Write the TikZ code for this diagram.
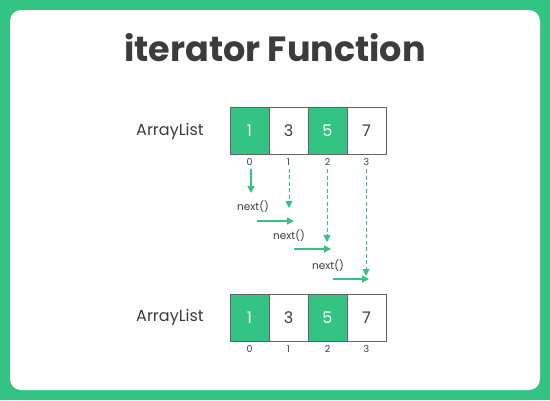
\documentclass[tikz,border=0pt]{standalone}
\usepackage{fontspec}
\setmainfont{Poppins}
\usetikzlibrary{arrows.meta}
\definecolor{gfg}{RGB}{51,196,132}
\definecolor{ink}{RGB}{60,60,60}
\begin{document}
\begin{tikzpicture}[x=1pt,y=-1pt,
  cell/.style={draw=ink!80,line width=0.8pt,minimum width=39pt,minimum height=47pt,inner sep=0pt,font=\fontsize{16}{18}\selectfont,text=ink},
  gcell/.style={cell,fill=gfg,text=white},
  idx/.style={font=\fontsize{9.5}{10}\selectfont,text=ink},
  lbl/.style={font=\fontsize{16}{18}\selectfont,text=ink},
  nxt/.style={font=\fontsize{10.5}{12}\selectfont,text=ink},
  arr/.style={draw=gfg,line width=1.4pt,-{Triangle[length=7pt,width=7pt]}},
  darr/.style={arr,line width=0.9pt,dash pattern=on 4pt off 2.5pt}]
\useasboundingbox (0,0) rectangle (550,400);
\fill[gfg] (0,0) rectangle (550,400);
\fill[white,rounded corners=11pt] (10,10) rectangle (540,390);
\node[font=\bfseries\fontsize{35}{38}\selectfont,text=ink] (title) at (275,48) {iterator Function};
% upper array
\node[lbl] (l1) at (170,131) {ArrayList};
\node[gcell] (a0) at (249.5,130.5) {1};
\node[cell] (a1) at (288.5,130.5) {3};
\node[gcell] (a2) at (327.5,130.5) {5};
\node[cell] (a3) at (366.5,130.5) {7};
\node[idx] (i0) at (249.5,162) {0};
\node[idx] (i1) at (288.5,162) {1};
\node[idx] (i2) at (327.5,162) {2};
\node[idx] (i3) at (366.5,162) {3};
% lower array
\node[lbl] (l2) at (170,317) {ArrayList};
\node[gcell] (b0) at (249.5,317.5) {1};
\node[cell] (b1) at (288.5,317.5) {3};
\node[gcell] (b2) at (327.5,317.5) {5};
\node[cell] (b3) at (366.5,317.5) {7};
\node[idx] (j0) at (249.5,349) {0};
\node[idx] (j1) at (288.5,349) {1};
\node[idx] (j2) at (327.5,349) {2};
\node[idx] (j3) at (366.5,349) {3};
% iterator steps
\coordinate (e0) at (251,193);
\coordinate (e1) at (289,208);
\coordinate (e2) at (327,242);
\coordinate (e3) at (366,276);
\draw[arr] (i0.south -| e0) -- (e0);
\draw[darr] (i1.south -| e1) -- (e1);
\draw[darr] (i2.south -| e2) -- (e2);
\draw[darr] (i3.south -| e3) -- (e3);
\node[nxt] (n1) at (253,207) {next()};
\node[nxt] (n2) at (289,236) {next()};
\node[nxt] (n3) at (328,266) {next()};
\coordinate (h1s) at (257,221); \coordinate (h1e) at (294,221);
\coordinate (h2s) at (294,249); \coordinate (h2e) at (331,249);
\coordinate (h3s) at (333,279); \coordinate (h3e) at (369,279);
\draw[arr] (h1s) -- (h1e);
\draw[arr] (h2s) -- (h2e);
\draw[arr] (h3s) -- (h3e);
\end{tikzpicture}
\end{document}
